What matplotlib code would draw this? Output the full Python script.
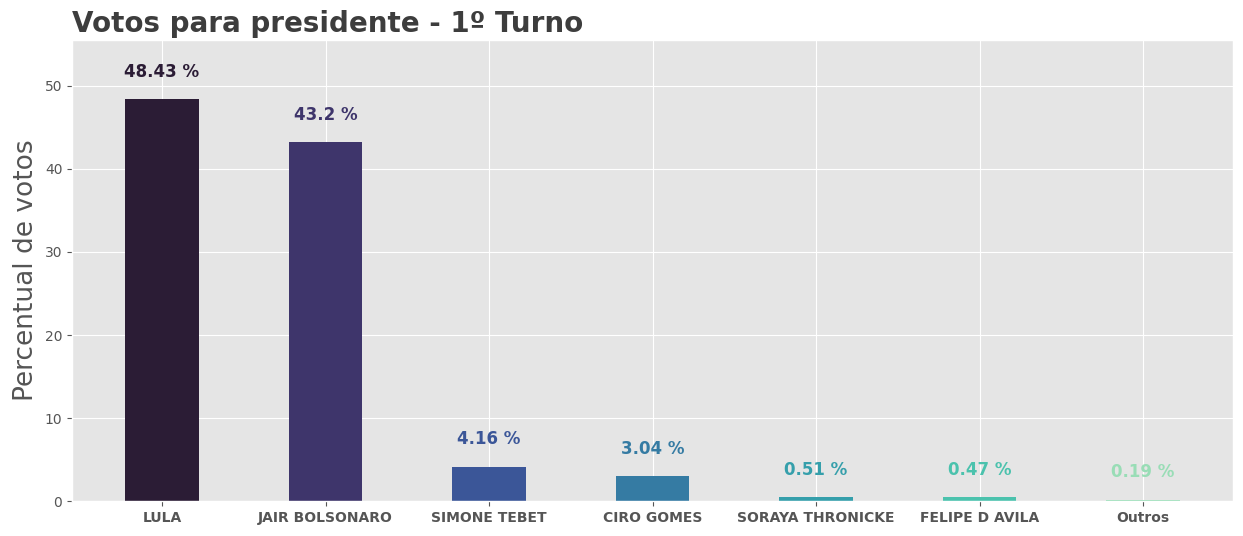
import matplotlib
matplotlib.use("Agg")
import matplotlib.pyplot as plt
import seaborn as sns

plt.style.use("ggplot")
candidatos = ["LULA", "JAIR BOLSONARO", "SIMONE TEBET", "CIRO GOMES", "SORAYA THRONICKE", "FELIPE D AVILA", "Outros"]
votos = [48.43, 43.2, 4.16, 3.04, 0.51, 0.47, 0.19]
rotulos = ["48.43 %", "43.2 %", "4.16 %", "3.04 %", "0.51 %", "0.47 %", "0.19 %"]

cores = sns.color_palette("mako", 7)
fig, ax = plt.subplots(figsize=(12.43, 5.36), dpi=100)
ax.bar(candidatos, votos, color=cores, width=0.45)
for i, (v, r) in enumerate(zip(votos, rotulos)):
    ax.text(i, v + 2.2, r, ha="center", va="bottom", color=cores[i], fontsize=12, fontweight="bold")
ax.set_ylim(0, 55.5)
ax.set_xlim(-0.55, 6.55)
ax.set_ylabel("Percentual de votos", fontsize=19, color="#555555")
ax.set_title("Votos para presidente - 1º Turno", loc="left", fontsize=20, fontweight="bold", color="#3d3d3d")
for lab in ax.get_xticklabels():
    lab.set_fontweight("bold")
    lab.set_color("#555555")
ax.tick_params(axis="x", labelsize=10)
ax.tick_params(axis="y", labelsize=10)
plt.subplots_adjust(left=0.058, right=0.992, top=0.925, bottom=0.065)
fig.savefig("out.png", dpi=100)
